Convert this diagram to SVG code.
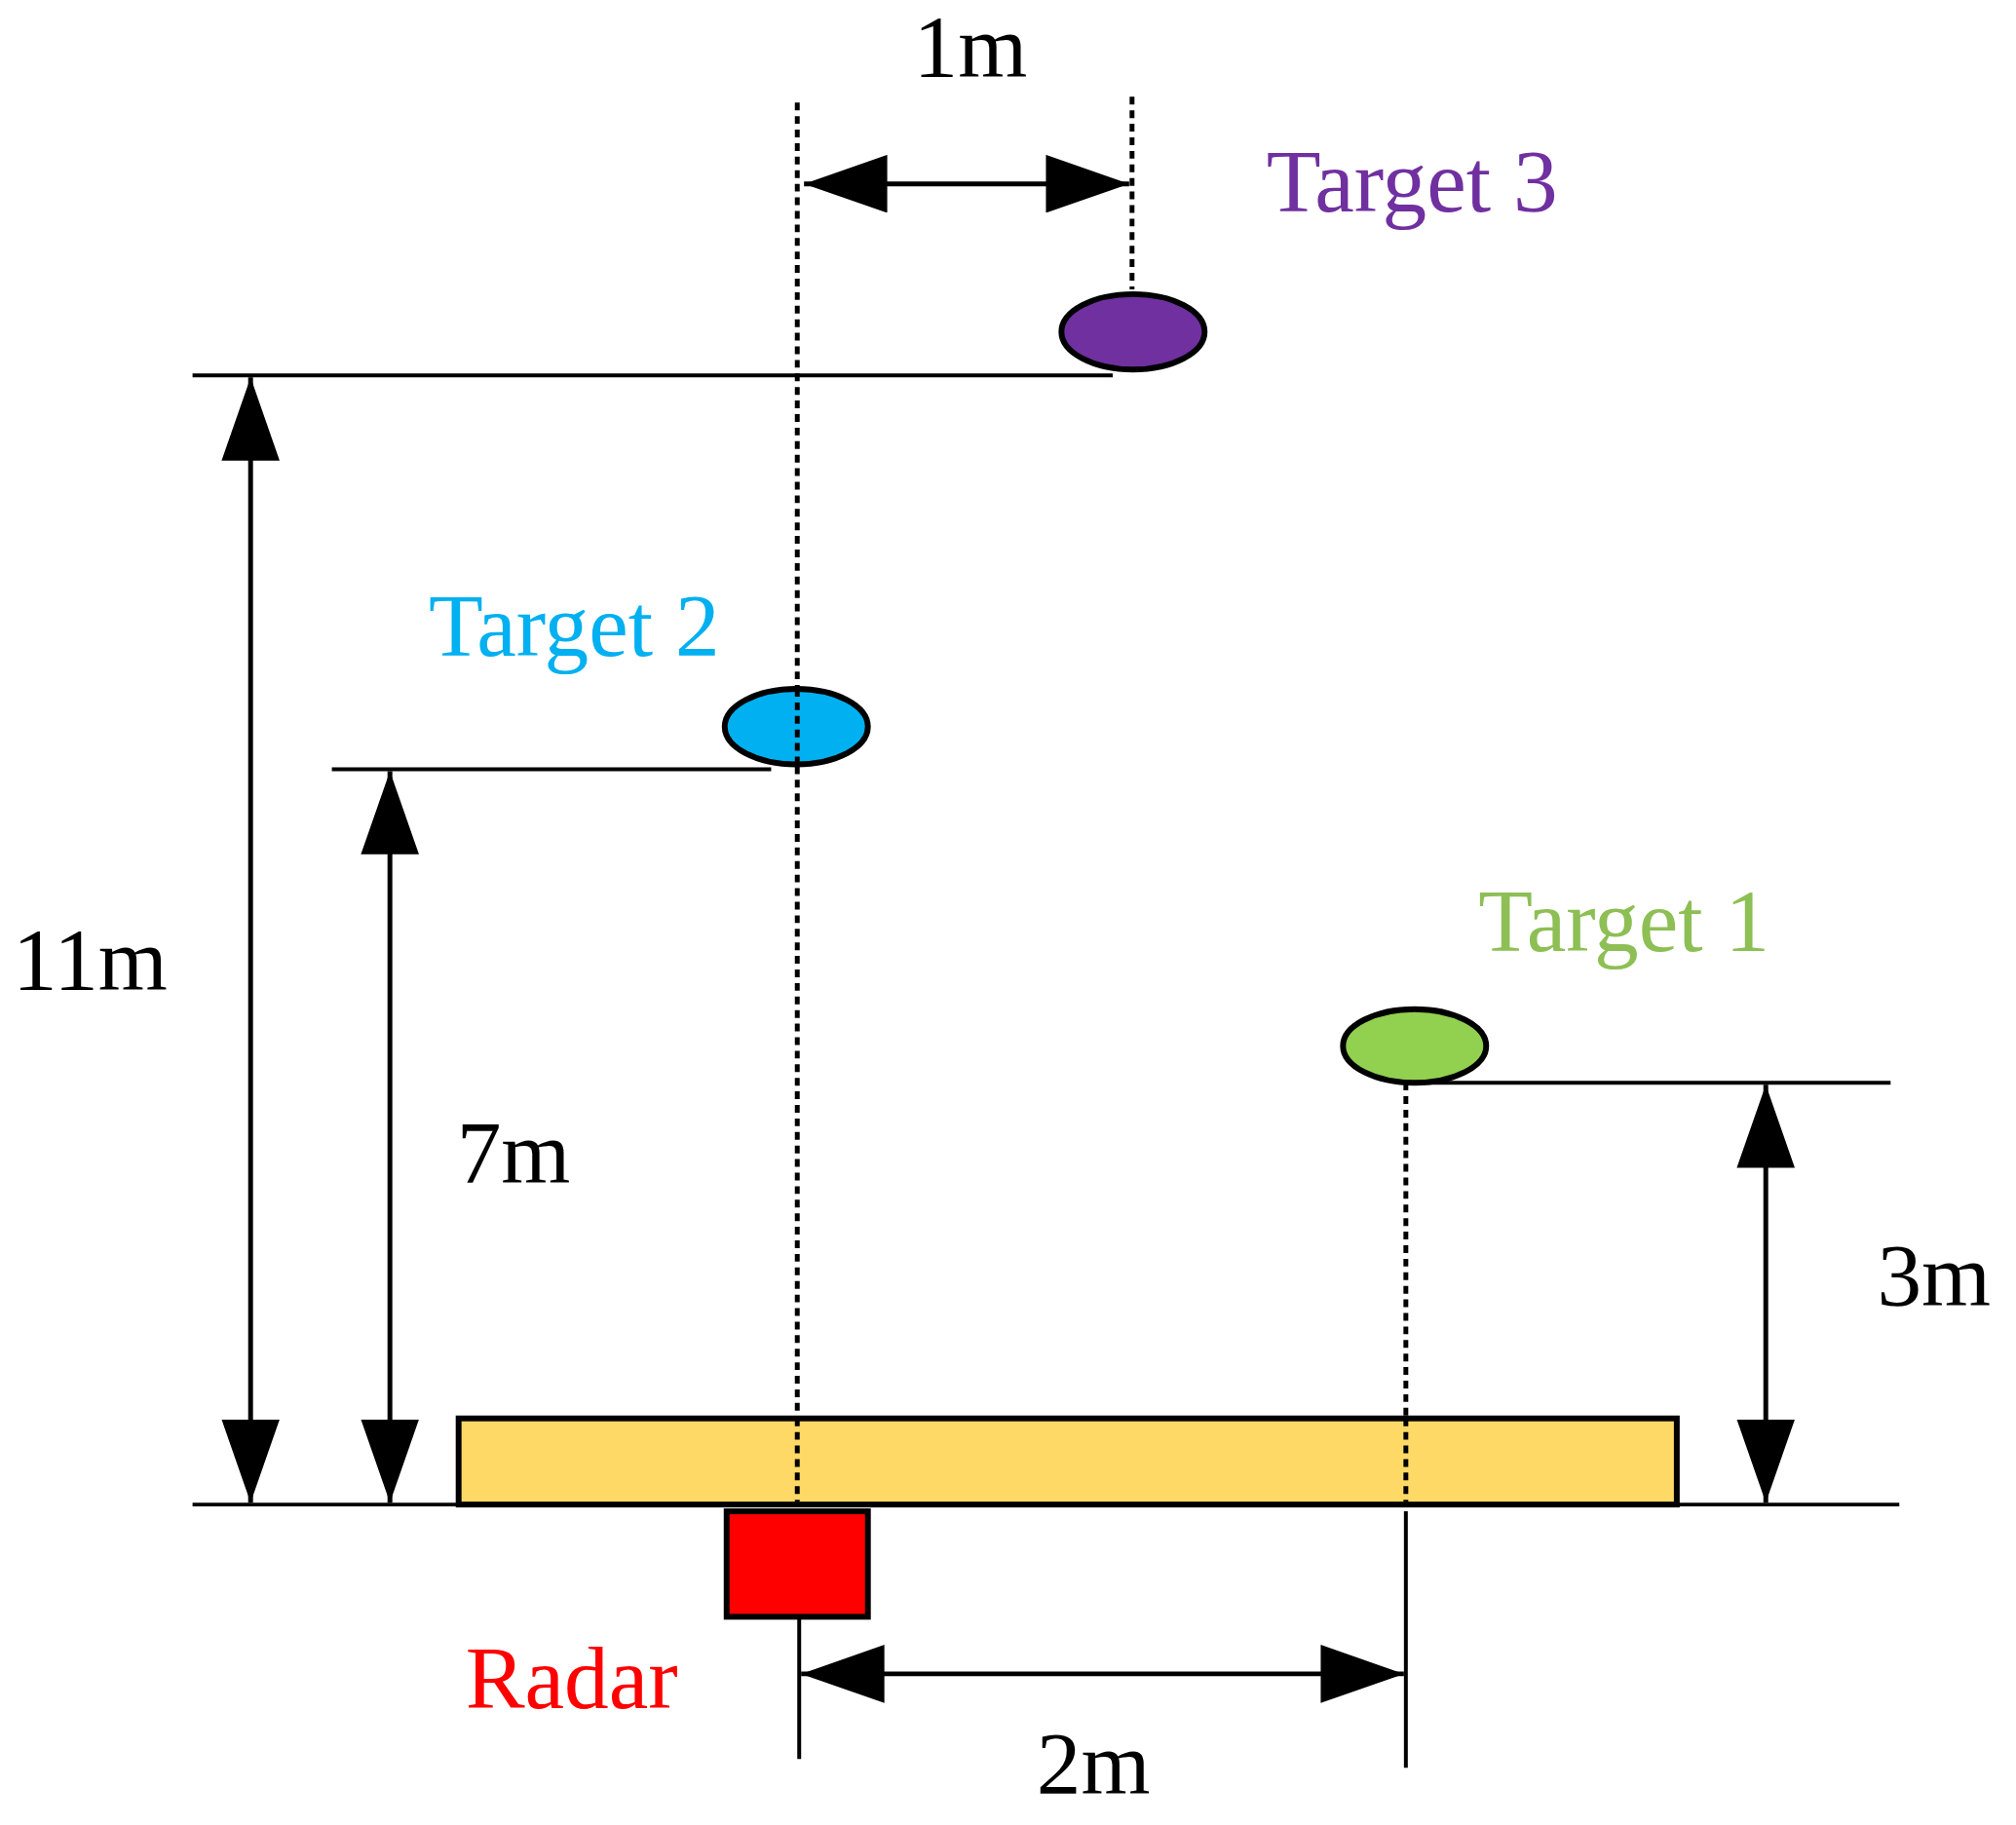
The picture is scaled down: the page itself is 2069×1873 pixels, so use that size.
<svg xmlns="http://www.w3.org/2000/svg" width="2069" height="1873" viewBox="0 0 2069 1873">
<style>
.t{font-family:"Liberation Serif","Times New Roman",serif;font-size:92px}
.l{stroke:#000;stroke-width:4;fill:none}
.d{stroke:#000;stroke-width:5;stroke-dasharray:8,6;fill:none}
.a{stroke:#000;stroke-width:5;fill:none;marker-start:url(#h);marker-end:url(#h)}
</style>
<defs>
<marker id="h" markerUnits="userSpaceOnUse" viewBox="0 0 86 60" refX="86" refY="30" markerWidth="86" markerHeight="60" orient="auto-start-reverse">
<path d="M0,0 L86,30 L0,60 Z" fill="#000"/>
</marker>
</defs>
<rect width="2069" height="1873" fill="#fff"/>
<g transform="scale(0.993)">
<g id="connectors">
<line class="d" x1="824" y1="106" x2="824" y2="1548"/>
<line class="l" x1="826" y1="1672" x2="826" y2="1818"/>
<line class="d" x1="1170" y1="100" x2="1170" y2="299"/>
<line class="d" x1="1453" y1="1119" x2="1453" y2="1548"/>
<line class="l" x1="1453" y1="1562" x2="1453" y2="1827"/>
<line class="l" x1="199" y1="388" x2="1150" y2="388"/>
<line class="l" x1="343" y1="795" x2="797" y2="795"/>
<line class="l" x1="1462" y1="1119" x2="1954" y2="1119"/>
<line class="l" x1="199" y1="1555" x2="1963" y2="1555"/>
<line class="a" x1="831" y1="190" x2="1167" y2="190"/>
<line class="a" x1="259" y1="390" x2="259" y2="1553"/>
<line class="a" x1="403" y1="797" x2="403" y2="1553"/>
<line class="a" x1="1825" y1="1121" x2="1825" y2="1553"/>
<line class="a" x1="828" y1="1730" x2="1451" y2="1730"/>
</g>
<g id="radarbar"><rect x="474" y="1466" width="1259" height="89" fill="#FFD966" stroke="#000" stroke-width="6"/></g>
<line class="d" x1="824" y1="1466" x2="824" y2="1552"/>
<line class="d" x1="1453" y1="1466" x2="1453" y2="1552"/>
<g id="radar"><rect x="751" y="1562" width="146" height="109" fill="#FF0000" stroke="#000" stroke-width="6"/>
<text class="t" x="481" y="1765" fill="#FF0000">Radar</text></g>
<g id="target3"><ellipse cx="1171" cy="343" rx="74" ry="39" fill="#7030A0" stroke="#000" stroke-width="6"/>
<text class="t" x="1309" y="219" fill="#7030A0">Target 3</text></g>
<g id="target2"><ellipse cx="823" cy="751" rx="74" ry="39" fill="#00B0F0" stroke="#000" stroke-width="6"/>
<text class="t" x="443" y="678" fill="#00B0F0">Target 2</text></g>
<line class="d" x1="824" y1="712" x2="824" y2="790"/>
<g id="target1"><ellipse cx="1462" cy="1081" rx="74" ry="38" fill="#92D050" stroke="#000" stroke-width="6"/>
<text class="t" x="1528" y="983" fill="#8DBF55">Target 1</text></g>
<g id="labels">
<text class="t" x="1003" y="80" text-anchor="middle">1m</text>
<text class="t" x="13" y="1023">11m</text>
<text class="t" x="472" y="1223">7m</text>
<text class="t" x="1940" y="1349">3m</text>
<text class="t" x="1130" y="1854" text-anchor="middle">2m</text>
</g>
</g>
</svg>
